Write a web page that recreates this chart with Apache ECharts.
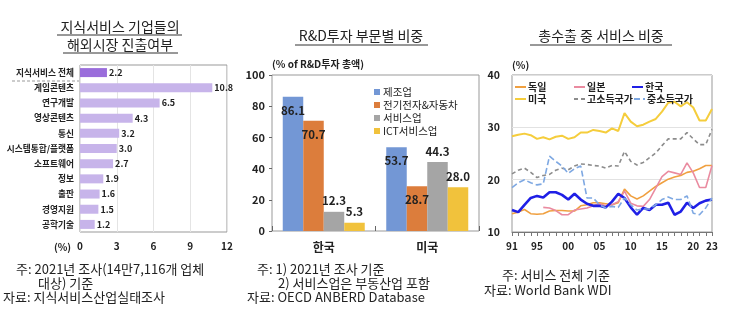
<!DOCTYPE html>
<html><head><meta charset="utf-8">
<script src="https://cdn.jsdelivr.net/npm/echarts@6/dist/echarts.min.js"></script>
<style>html,body{margin:0;padding:0;background:#fff}#c{width:745px;height:323px}</style>
</head><body><div id="c"></div>
<script>
const FONT = '"Noto Sans CJK KR", "Noto Sans", sans-serif';

// ---- Panel 1: 지식서비스 기업들의 해외시장 진출여부 ----
const exportCategories = ['지식서비스 전체','게임콘텐츠','연구개발','영상콘텐츠','통신','시스템통합/플랫폼','소프트웨어','정보','출판','경영지원','공학기술'];
const exportValues = [2.2, 10.8, 6.5, 4.3, 3.2, 3.0, 2.7, 1.9, 1.6, 1.5, 1.2];

// ---- Panel 2: R&D투자 부문별 비중 ----
const rdCountries = ['한국', '미국'];
const rdSeriesNames = ['제조업', '전기전자&자동차', '서비스업', 'ICT서비스업'];
const rdManufacturing = [86.1, 53.7];
const rdElecAuto = [70.7, 28.7];
const rdServices = [12.3, 44.3];
const rdIct = [5.3, 28.0];

// ---- Panel 3: 총수출 중 서비스 비중 ----
const years = ['1991','1992','1993','1994','1995','1996','1997','1998','1999','2000','2001','2002','2003','2004','2005','2006','2007','2008','2009','2010','2011','2012','2013','2014','2015','2016','2017','2018','2019','2020','2021','2022','2023'];
const yearTickLabels = ['91','95','00','05','10','15','20','23'];
const germany = [13.5,13.8,14.3,13.5,13.4,13.5,14.0,14.1,14.1,14.0,14.0,15.0,15.2,15.6,15.6,15.4,15.2,15.6,18.2,16.9,16.3,16.9,17.8,18.7,19.4,20.1,20.5,20.8,21.4,21.6,22.1,22.7,22.7];
const japan = [null,null,null,null,null,14.7,14.6,14.1,13.3,13.3,14.2,14.4,14.6,15.0,15.4,15.0,15.2,15.8,17.8,15.5,15.0,14.9,16.2,18.4,20.6,21.6,21.3,21.0,23.2,21.3,18.5,18.5,22.7];
const korea = [14.2,13.8,15.2,16.5,16.9,16.6,17.6,17.6,17.1,16.2,17.3,16.2,15.4,15.0,15.0,14.7,15.8,17.3,16.5,14.7,13.3,14.6,14.2,15.2,15.2,15.6,13.3,13.9,15.6,14.6,15.5,16.0,16.2];
const usa = [28.3,28.6,28.8,28.5,27.8,28.1,27.7,28.2,28.4,27.8,28.1,29.0,29.0,29.5,29.3,29.0,29.8,29.3,32.7,31.1,30.2,30.5,31.1,31.6,33.0,34.7,34.9,34.0,34.8,33.8,31.3,31.3,33.5];
const highIncome = [21.1,21.8,22.2,21.4,20.4,20.8,21.0,21.8,22.2,21.9,22.6,23.0,22.9,22.7,22.6,22.2,22.7,22.6,25.4,23.5,22.8,23.3,24.2,25.1,26.5,27.8,27.8,27.8,29.0,27.8,26.7,26.7,29.6];
const middleIncome = [18.5,19.4,20.0,19.4,19.0,19.2,24.5,23.5,22.6,21.2,22.1,22.6,16.5,16.5,15.2,14.6,14.9,14.7,16.5,15.2,14.2,14.4,14.4,15.2,16.2,16.7,16.2,16.2,16.9,13.6,13.3,14.6,16.5];

const chart = echarts.init(document.getElementById('c'), null, {renderer: 'canvas'});

function txt(text, x, y, size, align) {
  return {type: 'text', x: x, y: y, silent: true,
    style: {text: text, fill: '#222', font: size + 'px ' + FONT, textAlign: align || 'left', textVerticalAlign: 'middle'}};
}
function hline(x1, x2, y, dash) {
  return {type: 'line', silent: true, shape: {x1: x1, y1: y, x2: x2, y2: y},
    style: {stroke: dash ? '#999' : '#333', lineWidth: 1, lineDash: dash ? [3, 2] : null}};
}

const lineDefs = [
  {name: '독일', data: germany, color: '#f0a040', width: 1.6, type: 'solid', left: 514, top: 82},
  {name: '일본', data: japan, color: '#ea8ba0', width: 1.6, type: 'solid', left: 573, top: 82},
  {name: '한국', data: korea, color: '#1f1fe6', width: 2.6, type: 'solid', left: 631, top: 82},
  {name: '미국', data: usa, color: '#f5cd3c', width: 2, type: 'solid', left: 514, top: 94},
  {name: '고소득국가', data: highIncome, color: '#8c8c8c', width: 1.6, type: [4, 3], left: 573, top: 94},
  {name: '중소득국가', data: middleIncome, color: '#7ea8e2', width: 1.6, type: [6, 3], left: 633, top: 94}
];

const option = {
  animation: false,
  textStyle: {fontFamily: FONT},
  grid: [
    {left: 80, top: 65, width: 147, height: 167, show: true, borderColor: '#999', borderWidth: 1},
    {left: 272, top: 75, width: 207, height: 156, show: true, borderColor: '#999', borderWidth: 1},
    {left: 512, top: 75, width: 200, height: 157, show: true, borderColor: '#999', borderWidth: 1}
  ],
  legend: [
    {data: rdSeriesNames, orient: 'vertical', left: 369, top: 81, itemWidth: 6, itemHeight: 6, itemGap: 1, icon: 'rect',
     textStyle: {fontSize: 10.5, color: '#222', fontFamily: FONT, lineHeight: 12, padding: [0, 0, 0, -2]}, selectedMode: false}
  ].concat(lineDefs.map(d => ({
     data: [d.name], left: d.left, top: d.top, itemWidth: 11, itemHeight: 8, itemGap: 0, selectedMode: false, padding: 0,
     itemStyle: {opacity: 0},
     textStyle: {fontSize: 10, color: '#222', fontFamily: FONT, fontWeight: 'bold', padding: [0, 0, 0, -3]}
  }))),
  xAxis: [
    {gridIndex: 0, type: 'value', min: 0, max: 12, interval: 3,
     axisLine: {show: false}, axisTick: {show: false},
     splitLine: {lineStyle: {color: '#e4e4e4'}},
     axisLabel: {margin: 9, fontSize: 10, color: '#222', fontWeight: 'bold'},
     name: '(%)', nameLocation: 'start', nameGap: 8,
     nameTextStyle: {fontSize: 10, color: '#222', verticalAlign: 'top', padding: [10, 0, 0, 0], fontWeight: 'bold'}},
    {gridIndex: 1, type: 'category', data: rdCountries,
     axisLine: {show: false},
     axisTick: {show: true, inside: true, length: 5, lineStyle: {color: '#666'}},
     axisLabel: {margin: 10, fontSize: 12, color: '#222', fontWeight: 'bold'}},
    {gridIndex: 2, type: 'category', data: years, boundaryGap: false,
     axisLine: {show: true, lineStyle: {color: '#777'}},
     axisTick: {show: true, interval: 0, length: 4, lineStyle: {color: '#777'}},
     axisLabel: {margin: 9, fontSize: 10, color: '#222', fontWeight: 'bold',
       interval: (i, v) => yearTickLabels.indexOf(v.slice(2)) >= 0 && (i === 0 || i === years.length - 1 || (i + 1) % 5 === 0),
       formatter: v => v.slice(2)}}
  ],
  yAxis: [
    {gridIndex: 0, type: 'category', data: exportCategories, inverse: true,
     axisLine: {show: false}, axisTick: {show: false},
     axisLabel: {fontSize: 8.7, color: '#222', margin: 6, fontWeight: 'bold'}},
    {gridIndex: 1, type: 'value', min: 0, max: 100, interval: 20,
     axisLine: {show: false}, axisTick: {show: true, length: 3, lineStyle: {color: '#666'}},
     splitLine: {show: false},
     axisLabel: {margin: 7, fontSize: 11, color: '#222', fontWeight: 'bold'},
     name: '(% of R&D투자 총액)', nameLocation: 'end', nameGap: 6,
     nameTextStyle: {align: 'left', fontSize: 10, color: '#222', fontWeight: 'bold'}},
    {gridIndex: 2, type: 'value', min: 10, max: 40, interval: 10,
     axisLine: {show: false}, axisTick: {show: false},
     splitLine: {lineStyle: {color: '#e2e2e2'}},
     axisLabel: {margin: 12, fontSize: 10.5, color: '#222', fontWeight: 'bold'},
     name: '(%)', nameLocation: 'end', nameGap: 5,
     nameTextStyle: {align: 'left', fontSize: 10, color: '#222', fontWeight: 'bold'}}
  ],
  series: [
    {type: 'bar', xAxisIndex: 0, yAxisIndex: 0, data: exportValues, barWidth: 9,
     itemStyle: {color: p => p.dataIndex === 0 ? '#9a6ddb' : '#c7b4ea'},
     label: {show: true, position: 'right', distance: 2, fontSize: 9, color: '#222', fontWeight: 'bold',
       formatter: p => p.value.toFixed(1)}},
    {type: 'bar', name: rdSeriesNames[0], xAxisIndex: 1, yAxisIndex: 1, data: rdManufacturing, barWidth: 20.5, barGap: '0%',
     itemStyle: {color: '#7397d5'},
     label: {show: true, position: 'insideTop', distance: 8, fontSize: 11.5, color: '#222', fontWeight: 'bold', formatter: p => p.value.toFixed(1)}},
    {type: 'bar', name: rdSeriesNames[1], xAxisIndex: 1, yAxisIndex: 1, data: rdElecAuto, barWidth: 20.5, barGap: '0%',
     itemStyle: {color: '#dc7d3c'},
     label: {show: true, position: 'insideTop', distance: 8, fontSize: 11.5, color: '#222', fontWeight: 'bold', formatter: p => p.value.toFixed(1)}},
    {type: 'bar', name: rdSeriesNames[2], xAxisIndex: 1, yAxisIndex: 1, data: rdServices, barWidth: 20.5, barGap: '0%',
     itemStyle: {color: '#a5a5a5'},
     label: {show: true, position: 'top', distance: 5, fontSize: 11.5, color: '#222', fontWeight: 'bold', formatter: p => p.value.toFixed(1)}},
    {type: 'bar', name: rdSeriesNames[3], xAxisIndex: 1, yAxisIndex: 1, data: rdIct, barWidth: 20.5, barGap: '0%',
     itemStyle: {color: '#f1c23c'},
     label: {show: true, position: 'top', distance: 5, fontSize: 11.5, color: '#222', fontWeight: 'bold', formatter: p => p.value.toFixed(1)}}
  ].concat(lineDefs.map(d => ({
    type: 'line', name: d.name, xAxisIndex: 2, yAxisIndex: 2, data: d.data,
    symbol: 'none', smooth: false, connectNulls: false,
    lineStyle: {color: d.color, width: d.width, type: d.type},
    itemStyle: {color: d.color}
  }))),
  graphic: [
    txt('지식서비스 기업들의', 120, 27, 14, 'center'),
    txt('해외시장 진출여부', 120, 45, 14, 'center'),
    hline(57, 182, 35), hline(63, 178, 53),
    txt('R&D투자 부문별 비중', 361, 36, 14, 'center'), hline(295, 428, 45),
    txt('총수출 중 서비스 비중', 601, 36, 14, 'center'), hline(530, 672, 45),
    hline(12, 79, 81, true),
    txt('주: 2021년 조사(14만7,116개 업체', 16, 269, 13),
    txt('대상) 기준', 38, 283, 13),
    txt('자료: 지식서비스산업실태조사', 3, 297, 13),
    txt('주: 1) 2021년 조사 기준', 257, 269, 13),
    txt('2) 서비스업은 부동산업 포함', 278, 283, 13),
    txt('자료: OECD ANBERD Database', 247, 297, 13),
    txt('주: 서비스 전체 기준', 502, 275, 13),
    txt('자료: World Bank WDI', 484, 290, 13)
  ]
};
chart.setOption(option);
</script>
</body></html>
